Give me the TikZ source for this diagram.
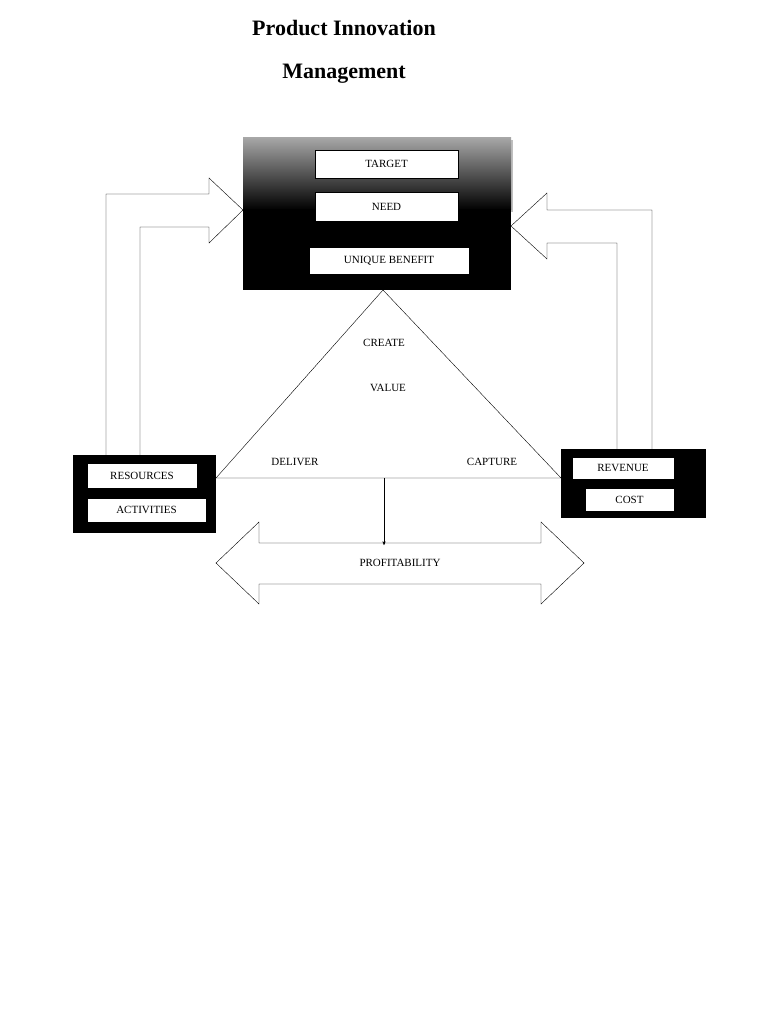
\documentclass[tikz,border=0pt]{standalone}
\usepackage{fontspec}
\setmainfont{Liberation Serif}
\usetikzlibrary{arrows,shadows}
\begin{document}
\begin{tikzpicture}[x=1pt,y=-1pt,>=stealth',
  label node/.style={font=\fontsize{11}{13}\selectfont},
  white box/.style={draw,thin,fill=white,font=\fontsize{11}{13}\selectfont,inner sep=0pt},
  frame line/.style={draw,thin}]
  \useasboundingbox (0,0) rectangle (768,1024);
  \node[font=\fontsize{22}{26}\selectfont\bfseries] (title1) at (344,28) {Product Innovation};
  \node[font=\fontsize{22}{26}\selectfont\bfseries] (title2) at (344,74) {Management};
  % top block
  \shade[top color=gray!70,bottom color=black,drop shadow] (243,138) rectangle (511,210);
  \fill (243,209) rectangle (511,290);
  \node[white box,minimum width=143,minimum height=28] (target) at (386.5,164) {TARGET};
  \node[white box,minimum width=143,minimum height=29] (need) at (386.5,206.5) {NEED};
  \node[white box,minimum width=160,minimum height=27] (benefit) at (389,260.5) {UNIQUE BENEFIT};
  % triangle
  \coordinate (apex) at (383,290);
  \coordinate (bl) at (216,478);
  \coordinate (br) at (561,478);
  \draw[frame line] (bl) -- (apex) -- (br) -- cycle;
  \node[label node] (create) at (384,343) {CREATE};
  \node[label node] (value) at (388,388) {VALUE};
  \node[label node] (deliver) at (295,462) {DELIVER};
  \node[label node] (capture) at (492,462) {CAPTURE};
  % side blocks
  \fill (73,455) rectangle (216,533);
  \node[white box,minimum width=110,minimum height=25] (resources) at (142,475.5) {RESOURCES};
  \node[white box,minimum width=119,minimum height=24] (activities) at (146.5,510) {ACTIVITIES};
  \fill (561,449) rectangle (706,518);
  \node[white box,minimum width=102,minimum height=22] (revenue) at (623,468) {REVENUE};
  \node[white box,minimum width=89,minimum height=23] (cost) at (629.5,499.5) {COST};
  % bent arrows
  \draw[frame line] (106,455) -- (106,194) -- (209,194) -- (209,178) -- (243,210)
    -- (209,243) -- (209,227) -- (140,227) -- (140,455);
  \draw[frame line] (652,449) -- (652,210) -- (547,210) -- (547,193) -- (511,226)
    -- (547,259) -- (547,243) -- (617,243) -- (617,449);
  % profitability
  \coordinate (mid) at (384,478);
  \coordinate (tip) at (384,545);
  \draw[thin,->] (mid) -- (tip);
  \draw[frame line] (216,563) -- (259,522) -- (259,543) -- (541,543) -- (541,522)
    -- (584,563) -- (541,604) -- (541,584) -- (259,584) -- (259,604) -- cycle;
  \node[label node] (profit) at (400,563) {PROFITABILITY};
\end{tikzpicture}
\end{document}
